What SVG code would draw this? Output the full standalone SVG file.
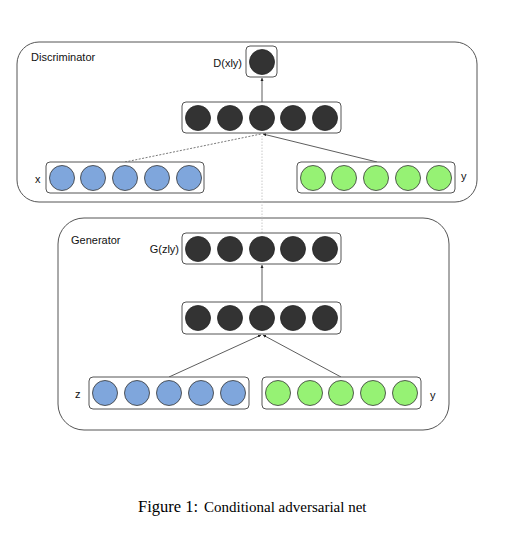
<svg xmlns="http://www.w3.org/2000/svg" width="512" height="534" viewBox="0 0 512 534">
<defs>
<style>
.outer{fill:#fff;stroke:#555;stroke-width:1}
.box{fill:#fff;stroke:#555;stroke-width:1}
.dk{fill:#333;stroke:#222;stroke-width:0.8}
.bl{fill:#7fa6dc;stroke:#333;stroke-width:0.8}
.gr{fill:#96f274;stroke:#333;stroke-width:0.8}
.lbl{font-family:"Liberation Sans",Arial,sans-serif;font-size:11px;fill:#111}
.ln{stroke:#333;stroke-width:0.8;fill:none}
</style>
<marker id="ah" viewBox="0 0 6 6" refX="6" refY="3" markerWidth="4" markerHeight="4" orient="auto">
<path d="M0,0 L6,3 L0,6 z" fill="#222"/>
</marker>
</defs>
<rect width="512" height="534" fill="#fff"/>
<g id="discriminator">
<rect class="outer" x="17" y="42" width="460" height="160" rx="22"/>
<text class="lbl" x="31" y="61">Discriminator</text>
</g>
<g id="generator">
<rect class="outer" x="58" y="218" width="391" height="212" rx="26"/>
<text class="lbl" x="71" y="244">Generator</text>
</g>
<g id="connectors">
<line class="ln" x1="262" y1="102" x2="262" y2="78" marker-end="url(#ah)"/>
<line x1="125" y1="162" x2="261" y2="134" stroke="#555" stroke-width="0.8" stroke-dasharray="2,1.5"/>
<line class="ln" x1="377" y1="162" x2="263" y2="134" marker-end="url(#ah)"/>
<line x1="262" y1="233" x2="262" y2="136" stroke="#bbb" stroke-width="0.8" stroke-dasharray="1.5,1.5"/>
<line class="ln" x1="262" y1="302" x2="262" y2="265" marker-end="url(#ah)"/>
<line class="ln" x1="169" y1="377" x2="261" y2="335" marker-end="url(#ah)"/>
<line class="ln" x1="341" y1="377" x2="263" y2="335" marker-end="url(#ah)"/>
</g>
<g id="d-out">
<rect class="box" x="246" y="46" width="31" height="31" rx="4"/>
<circle class="dk" cx="262" cy="62" r="12.5"/>
<text class="lbl" x="242" y="67" text-anchor="end">D(xly)</text>
</g>
<g id="d-hidden">
<rect class="box" x="182" y="102" width="159" height="31" rx="4"/>
<circle class="dk" cx="198" cy="118" r="12.5"/>
<circle class="dk" cx="230" cy="118" r="12.5"/>
<circle class="dk" cx="262" cy="118" r="12.5"/>
<circle class="dk" cx="293" cy="118" r="12.5"/>
<circle class="dk" cx="325" cy="118" r="12.5"/>
</g>
<g id="d-x">
<rect class="box" x="46" y="162" width="158" height="31" rx="4"/>
<circle class="bl" cx="62" cy="178" r="12.5"/>
<circle class="bl" cx="93" cy="178" r="12.5"/>
<circle class="bl" cx="125" cy="178" r="12.5"/>
<circle class="bl" cx="157" cy="178" r="12.5"/>
<circle class="bl" cx="189" cy="178" r="12.5"/>
<text class="lbl" x="35" y="183">x</text>
</g>
<g id="d-y">
<rect class="box" x="297" y="162" width="158" height="31" rx="4"/>
<circle class="gr" cx="313" cy="178" r="12.5"/>
<circle class="gr" cx="344" cy="178" r="12.5"/>
<circle class="gr" cx="376" cy="178" r="12.5"/>
<circle class="gr" cx="408" cy="178" r="12.5"/>
<circle class="gr" cx="439" cy="178" r="12.5"/>
<text class="lbl" x="461" y="180">y</text>
</g>
<g id="g-out">
<rect class="box" x="182" y="233" width="159" height="31" rx="4"/>
<circle class="dk" cx="198" cy="249" r="12.5"/>
<circle class="dk" cx="230" cy="249" r="12.5"/>
<circle class="dk" cx="262" cy="249" r="12.5"/>
<circle class="dk" cx="293" cy="249" r="12.5"/>
<circle class="dk" cx="325" cy="249" r="12.5"/>
<text class="lbl" x="179" y="253" text-anchor="end">G(zly)</text>
</g>
<g id="g-hidden">
<rect class="box" x="182" y="302" width="159" height="32" rx="4"/>
<circle class="dk" cx="198" cy="318" r="12.5"/>
<circle class="dk" cx="230" cy="318" r="12.5"/>
<circle class="dk" cx="262" cy="318" r="12.5"/>
<circle class="dk" cx="293" cy="318" r="12.5"/>
<circle class="dk" cx="325" cy="318" r="12.5"/>
</g>
<g id="g-z">
<rect class="box" x="89" y="377" width="160" height="32" rx="4"/>
<circle class="bl" cx="105" cy="393" r="12.5"/>
<circle class="bl" cx="137" cy="393" r="12.5"/>
<circle class="bl" cx="169" cy="393" r="12.5"/>
<circle class="bl" cx="201" cy="393" r="12.5"/>
<circle class="bl" cx="233" cy="393" r="12.5"/>
<text class="lbl" x="75" y="398">z</text>
</g>
<g id="g-y">
<rect class="box" x="262" y="377" width="159" height="32" rx="4"/>
<circle class="gr" cx="278" cy="393" r="12.5"/>
<circle class="gr" cx="310" cy="393" r="12.5"/>
<circle class="gr" cx="341" cy="393" r="12.5"/>
<circle class="gr" cx="373" cy="393" r="12.5"/>
<circle class="gr" cx="405" cy="393" r="12.5"/>
<text class="lbl" x="430" y="399">y</text>
</g>
<text y="512" font-family="'Liberation Serif','Times New Roman',serif" font-size="15" fill="#000"><tspan x="138" font-size="16.5">Figure 1:</tspan><tspan x="204">Conditional adversarial net</tspan></text>
</svg>
